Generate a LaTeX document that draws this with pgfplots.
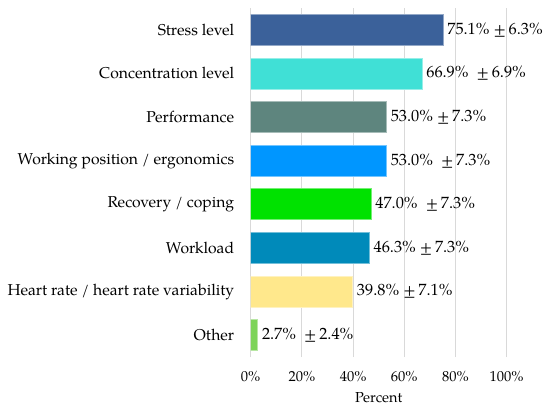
\documentclass[border=0pt]{standalone}
\usepackage{fontspec}
\setmainfont{TeX Gyre Pagella}
\usepackage{pgfplots}
\pgfplotsset{compat=1.18}
\definecolor{cStress}{RGB}{59,97,154}
\definecolor{cConc}{RGB}{64,224,214}
\definecolor{cPerf}{RGB}{94,133,126}
\definecolor{cWork}{RGB}{0,150,255}
\definecolor{cRec}{RGB}{0,226,0}
\definecolor{cLoad}{RGB}{0,138,186}
\definecolor{cHeart}{RGB}{255,232,140}
\definecolor{cOther}{RGB}{126,211,90}
\definecolor{gridc}{RGB}{217,217,217}
\begin{document}
\begin{tikzpicture}
\begin{axis}[
  name=ax,
  scale only axis,
  width=256pt, height=349pt,
  xbar, bar width=31pt, bar shift=0pt,
  xmin=0, xmax=100,
  ymin=-0.5, ymax=7.5,
  xtick={0,20,40,60,80,100},
  xticklabels={0\%,20\%,40\%,60\%,80\%,100\%},
  ytick={0,1,2,3,4,5,6,7},
  yticklabels={Other,Heart rate / heart rate variability,Workload,Recovery / coping,Working position / ergonomics,Performance,Concentration level,Stress level},
  xmajorgrids, major grid style={gridc, line width=0.9pt},
  axis line style={draw=none},
  major tick length=0pt,
  xticklabel style={font=\fontsize{14.5}{16}\selectfont, yshift=-11pt},
  yticklabel style={font=\fontsize{15.7}{18}\selectfont, xshift=-13pt},
  xlabel={Percent},
  xlabel style={font=\fontsize{14.5}{16}\selectfont, yshift=-3pt},
  nodes near coords align=horizontal,
  every node near coord/.append style={font=\fontsize{16.3}{18}\selectfont, anchor=west, inner sep=4pt, text=black},
]
\addplot[fill=cStress, draw=cStress!55!white, line width=0.8pt, nodes near coords={75.1\%~±\,6.3\%}] coordinates {(75.1,7)};
\addplot[fill=cConc, draw=cConc!55!white, line width=0.8pt, nodes near coords={66.9\%\ \ ±\,6.9\%}] coordinates {(66.9,6)};
\addplot[fill=cPerf, draw=cPerf!55!white, line width=0.8pt, nodes near coords={53.0\%~±\,7.3\%}] coordinates {(53.0,5)};
\addplot[fill=cWork, draw=cWork!55!white, line width=0.8pt, nodes near coords={53.0\%\ \ ±\,7.3\%}] coordinates {(53.0,4)};
\addplot[fill=cRec, draw=cRec!55!white, line width=0.8pt, nodes near coords={47.0\%\ \ ±\,7.3\%}] coordinates {(47.0,3)};
\addplot[fill=cLoad, draw=cLoad!55!white, line width=0.8pt, nodes near coords={46.3\%~±\,7.3\%}] coordinates {(46.3,2)};
\addplot[fill=cHeart, draw=cHeart!55!white, line width=0.8pt, nodes near coords={39.8\%~±\,7.1\%}] coordinates {(39.8,1)};
\addplot[fill=cOther, draw=cOther!55!white, line width=0.8pt, nodes near coords={2.7\%\ \ ±\,2.4\%}] coordinates {(2.7,0)};
\end{axis}
\pgfresetboundingbox
\path ([shift={(-250.7pt,-56pt)}]ax.south west) rectangle ([shift={(43.3pt,8pt)}]ax.north east);
\end{tikzpicture}
\end{document}
